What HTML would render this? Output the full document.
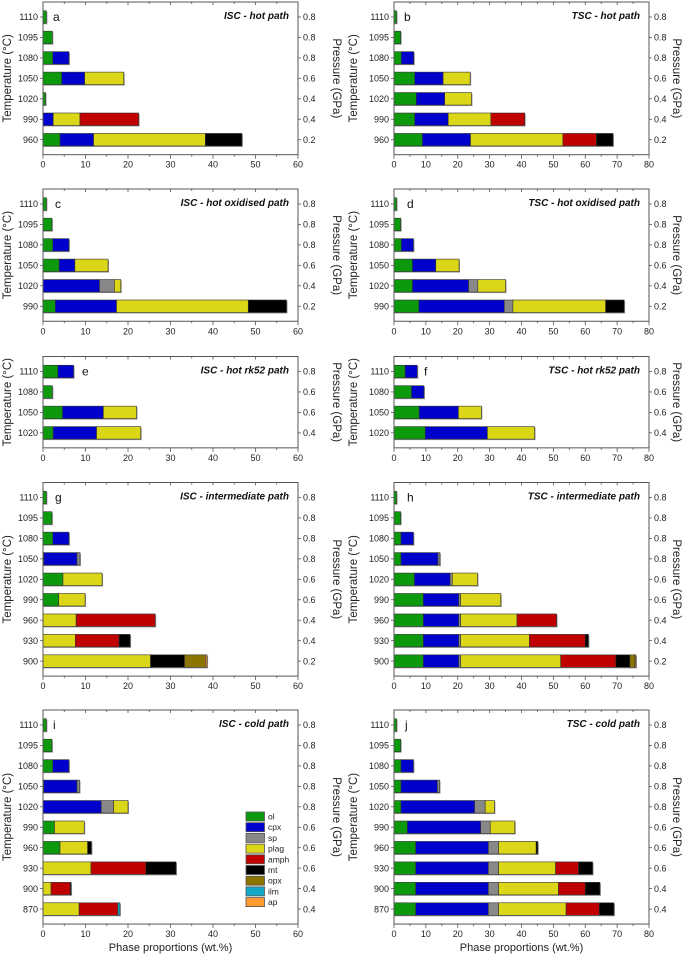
<!DOCTYPE html>
<html><head><meta charset="utf-8"><style>
html,body{margin:0;padding:0;background:#fff;}
svg{display:block;font-family:"Liberation Sans",Arial,sans-serif;}
</style></head><body>
<svg id="fig" width="685" height="956" viewBox="0 0 685 956" xmlns="http://www.w3.org/2000/svg"></svg>
<script>
// phases: ol, cpx, sp, plag, amph, mt, opx, ilm, ap
const phaseNames = ["ol","cpx","sp","plag","amph","mt","opx","ilm","ap"];
const phaseColors = ["#0c9a0c","#0000cc","#888888","#dcd618","#c00000","#000000","#8b7400","#12a8c8","#ff9a30"];

const tempsA = [1110,1095,1080,1050,1020,990,960];
const pressA = ["0.8","0.8","0.8","0.6","0.4","0.4","0.2"];
const valsA = [[0.8],[2.2],[2.3,3.8],[4.4,5.4,0,9.2],[0.6],[0,2.4,0,6.3,13.8],[4.0,7.9,0,26.3,0,8.6]];
const valsB = [[0.8],[2.1],[2.3,3.9],[6.5,8.9,0,8.5],[7.0,8.9,0,8.4],[6.5,10.5,0,13.4,10.6],[8.9,15.1,0,29,10.5,5.2]];

const tempsC = [1110,1095,1080,1050,1020,990];
const pressC = ["0.8","0.8","0.8","0.6","0.4","0.2"];
const valsC = [[0.8],[2.1],[2.3,3.8],[3.8,3.7,0,7.8],[0,13.3,3.5,1.5],[2.9,14.4,0,31,0,9]];
const valsD = [[0.8],[2.1],[2.3,3.8],[5.8,7.3,0,7.3],[5.8,17.6,2.9,8.7],[7.8,26.8,2.7,29.1,0,5.8]];

const tempsE = [1110,1080,1050,1020];
const pressE = ["0.8","0.6","0.6","0.4"];
const valsE = [[3.5,3.7],[2.2],[4.6,9.6,0,7.8],[2.4,10.2,0,10.4]];
const valsF = [[3.5,3.8],[5.5,3.9],[7.9,12.3,0,7.2],[9.8,19.5,0,14.8]];

const tempsG = [1110,1095,1080,1050,1020,990,960,930,900];
const pressG = ["0.8","0.8","0.8","0.8","0.6","0.6","0.4","0.4","0.2"];
const valsG = [[0.8],[2.1],[2.3,3.8],[0.2,7.8,0.7],[4.7,0,0,9.2],[3.7,0,0,6.2],[0,0,0,7.8,18.6],[0,0,0,7.6,10.3,2.6],[0,0,0,25.3,0,8,4.9,0,0.4]];
const valsH = [[0.8],[2.1],[2.2,3.9],[2.2,11.6,0.6],[6.4,11.2,0.7,7.9],[9.2,11.1,0.6,12.6],[9.2,11.1,0.6,17.7,12.4],[9.2,11.1,0.6,21.6,17.5,1.0],[9.2,11.1,0.6,31.4,17.3,4.4,1.6,0,0.3]];

const tempsI = [1110,1095,1080,1050,1020,990,960,930,900,870];
const pressI = ["0.8","0.8","0.8","0.8","0.8","0.6","0.6","0.6","0.4","0.4"];
const valsI = [[0.8],[2.1],[2.3,3.8],[0.2,7.8,0.6],[0,13.7,2.9,3.4],[2.7,0,0,7.0],[4,0,0,6.5,0,0.9],[0,0,0,11.3,12.9,7.1],[0,0,0,1.9,4.5,0.2],[0,0,0,8.5,9.1,0,0,0.5]];
const valsJ = [[0.8],[2.1],[2.2,3.9],[2.2,11.4,0.7],[2.2,23.1,3.3,2.9],[4.2,23,3,7.7],[6.8,22.8,3.2,11.8,0,0.5],[6.8,22.8,3.2,17.9,7.2,4.4],[6.8,22.8,3.2,18.8,8.4,4.6],[6.8,22.8,3.2,21.2,10.4,4.6]];

const titles = ["ISC - hot path","TSC - hot path","ISC - hot oxidised path","TSC - hot oxidised path","ISC - hot rk52 path","TSC - hot rk52 path","ISC - intermediate path","TSC - intermediate path","ISC - cold path","TSC - cold path"];
const letters = ["a","b","c","d","e","f","g","h","i","j"];

const NS="http://www.w3.org/2000/svg";
const svg=document.getElementById('fig');
function mk(tag,attrs,parent){const e=document.createElementNS(NS,tag);for(const k in attrs)e.setAttribute(k,attrs[k]);(parent||svg).appendChild(e);return e;}

const rowStep=20.45, pad=15, barH=12.5;
const cols=[{x0:43,x1:298,max:60,tl:38,pl:303,tt:11,pt:333},{x0:394,x1:649,max:80,tl:389,pl:654,tt:357,pt:673}];
const panels=[
 {c:0,y:17,t:tempsA,p:pressA,v:valsA,lx:53},{c:1,y:17,t:tempsA,p:pressA,v:valsB,lx:404},
 {c:0,y:204,t:tempsC,p:pressC,v:valsC,lx:55},{c:1,y:204,t:tempsC,p:pressC,v:valsD,lx:407},
 {c:0,y:371.5,t:tempsE,p:pressE,v:valsE,lx:82},{c:1,y:371.5,t:tempsE,p:pressE,v:valsF,lx:424},
 {c:0,y:497.5,t:tempsG,p:pressG,v:valsG,lx:55},{c:1,y:497.5,t:tempsG,p:pressG,v:valsH,lx:407},
 {c:0,y:725,t:tempsI,p:pressI,v:valsI,lx:53},{c:1,y:725,t:tempsI,p:pressI,v:valsJ,lx:405}
];

panels.forEach((P,pi)=>{
  const C=cols[P.c];
  const g=mk('g',{});
  
  
  const n=P.t.length;
  const top=P.y-pad, bot=P.y+(n-1)*rowStep+pad;
  const xs=v=>C.x0+v*(C.x1-C.x0)/C.max;
  const ys=i=>P.y+i*rowStep;
  P.v.forEach((row,i)=>{
    let acc=0;
    const total=row.reduce((a,b)=>a+b,0);
    const sh=mk('rect',{x:xs(0),y:ys(i)-barH/2+1,width:xs(total)-xs(0)+1,height:barH,fill:'#999'},g);
    
    
    row.forEach((w,k)=>{
      if(w<=0)return;
      const r=mk('rect',{x:xs(acc),y:ys(i)-barH/2,width:xs(acc+w)-xs(acc),height:barH,fill:phaseColors[k],stroke:'#333','stroke-width':0.6},g);
      
      
      acc+=w;
    });
  });
  const fr=mk('rect',{x:C.x0,y:top,width:C.x1-C.x0,height:bot-top,fill:'none',stroke:'#555','stroke-width':1},g);
  
  
  for(let v=0;v<=C.max;v+=5){
    const major=v%10===0;
    mk('line',{x1:xs(v),x2:xs(v),y1:bot,y2:bot+(major?4:2),stroke:'#555','stroke-width':0.8},g);
    mk('line',{x1:xs(v),x2:xs(v),y1:top,y2:top+(major?3:2),stroke:'#555','stroke-width':0.8},g);
    if(major){const t=mk('text',{x:xs(v),y:bot+13,'font-size':9,'text-anchor':'middle',fill:'#222'},g);t.textContent=v;
      
      }
  }
  P.t.forEach((tv,i)=>{
    mk('line',{x1:C.x0-3,x2:C.x0,y1:ys(i),y2:ys(i),stroke:'#555','stroke-width':0.8},g);
    mk('line',{x1:C.x1,x2:C.x1+3,y1:ys(i),y2:ys(i),stroke:'#555','stroke-width':0.8},g);
    const t=mk('text',{x:C.tl,y:ys(i)+3.2,'font-size':9,'text-anchor':'end',fill:'#222'},g);t.textContent=tv;
    
    
    const p=mk('text',{x:C.pl,y:ys(i)+3.2,'font-size':9,fill:'#222'},g);p.textContent=P.p[i];
    
    
  });
  const mid=(top+bot)/2;
  const tt=mk('text',{x:C.tt,y:mid,'font-size':11.5,'text-anchor':'middle',fill:'#222',transform:`rotate(-90 ${C.tt} ${mid})`},g);
  tt.textContent='Temperature (°C)';
  
  
  const pt=mk('text',{x:C.pt,y:mid,'font-size':11.5,'text-anchor':'middle',fill:'#222',transform:`rotate(90 ${C.pt} ${mid})`},g);
  pt.textContent='Pressure (GPa)';
  
  
  const ti=mk('text',{x:C.x1-9,y:P.y+2,'font-size':10,'font-weight':'bold','font-style':'italic','text-anchor':'end',fill:'#111'},g);
  ti.textContent=titles[pi];
  
  
  const le=mk('text',{x:P.lx,y:P.y+4,'font-size':12,fill:'#111'},g);
  le.textContent=letters[pi];
  
  
  if(pi>=8){
    const xt=mk('text',{x:(C.x0+C.x1)/2,y:951,'font-size':11,'text-anchor':'middle',fill:'#222'},g);
    xt.textContent='Phase proportions (wt.%)';
    
    
  }
});

const lg=mk('g',{});


phaseNames.forEach((nm,k)=>{
  const y=812+k*10.7;
  const r=mk('rect',{x:246,y:y,width:18.5,height:9,fill:phaseColors[k],stroke:'#555','stroke-width':0.8},lg);
  
  
  const t=mk('text',{x:268,y:y+7.5,'font-size':8.5,fill:'#222'},lg);
  t.textContent=nm;
  
  
});
</script>
</body></html>
